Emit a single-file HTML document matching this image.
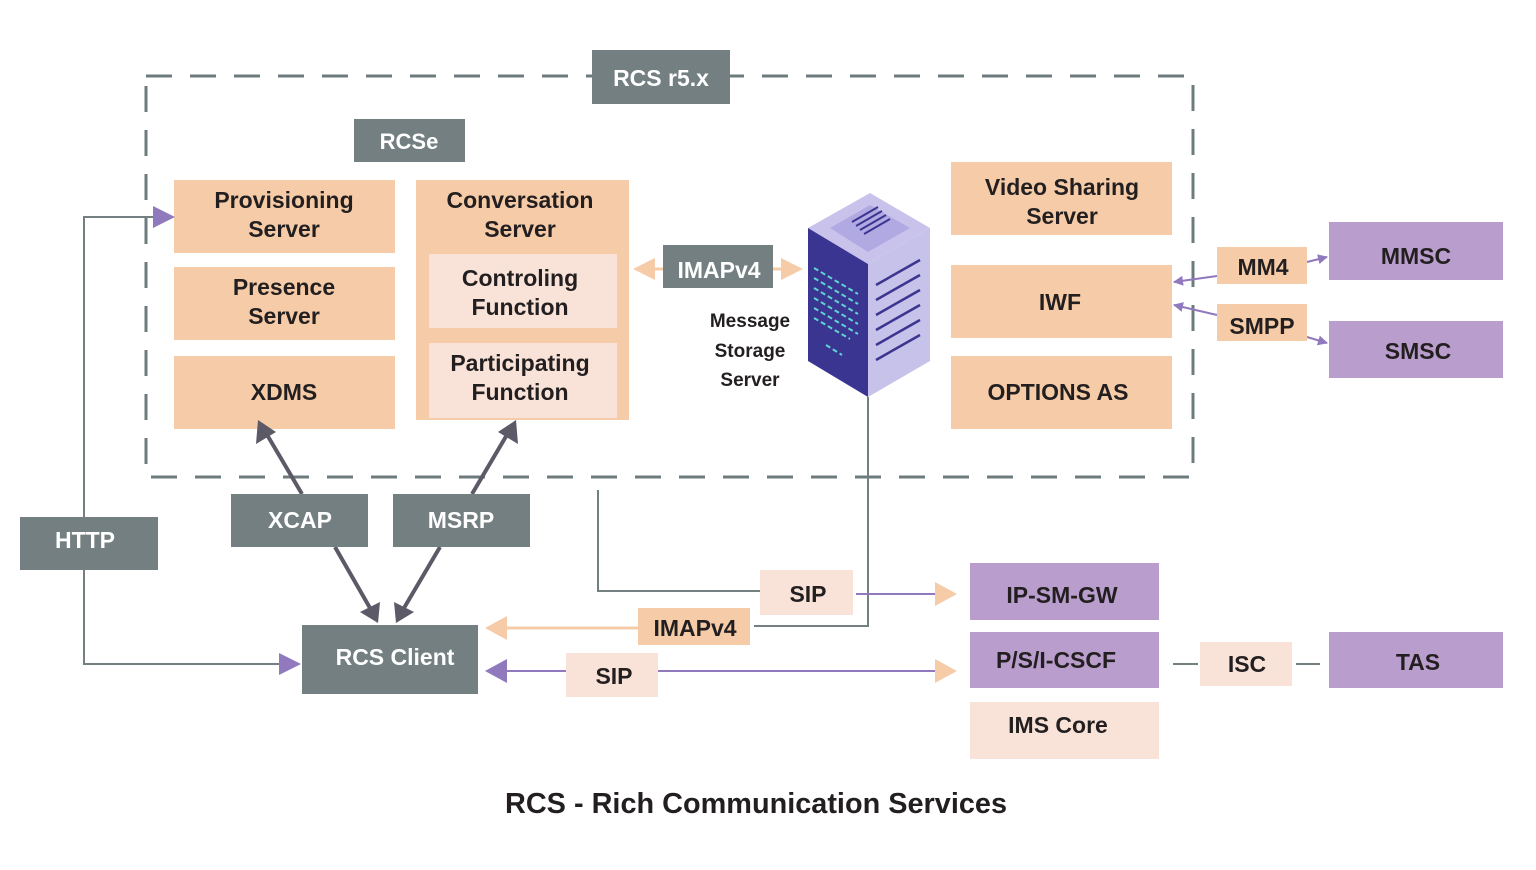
<!DOCTYPE html>
<html><head><meta charset="utf-8"><style>
html,body{margin:0;padding:0;background:#fff;}
svg text{font-family:"Liberation Sans",sans-serif;font-weight:bold;fill:#231f20;text-anchor:middle;}
</style></head><body>
<svg width="1536" height="865" viewBox="0 0 1536 865" xmlns="http://www.w3.org/2000/svg">
<defs>
<marker id="pa" markerWidth="10" markerHeight="10" refX="9" refY="5" orient="auto" markerUnits="userSpaceOnUse"><path d="M0,0 L10,5 L0,10 Z" fill="#9179bd"/></marker>
</defs>
<rect x="146" y="76" width="1047" height="401" fill="none" stroke="#6e7b7c" stroke-width="3" stroke-dasharray="26,18"/>
<rect x="592" y="50" width="138" height="54" fill="#737f80"/>
<text x="661" y="86" font-size="23" style="fill:#fff">RCS r5.x</text>
<rect x="354" y="119" width="111" height="43" fill="#737f80"/>
<text x="409" y="149" font-size="22" style="fill:#fff">RCSe</text>

<g font-size="23">
<rect x="174" y="180" width="221" height="73" fill="#f6cca8"/>
<text x="284" y="208">Provisioning</text><text x="284" y="237">Server</text>
<rect x="174" y="267" width="221" height="73" fill="#f6cca8"/>
<text x="284" y="295">Presence</text><text x="284" y="324">Server</text>
<rect x="174" y="356" width="221" height="73" fill="#f6cca8"/>
<text x="284" y="400">XDMS</text>
<rect x="416" y="180" width="213" height="240" fill="#f6cca8"/>
<text x="520" y="208">Conversation</text><text x="520" y="237">Server</text>
<rect x="429" y="254" width="188" height="74" fill="#f9e3d8"/>
<text x="520" y="286">Controling</text><text x="520" y="315">Function</text>
<rect x="429" y="343" width="188" height="75" fill="#f9e3d8"/>
<text x="520" y="371">Participating</text><text x="520" y="400">Function</text>

<rect x="951" y="162" width="221" height="73" fill="#f6cca8"/>
<text x="1062" y="195">Video Sharing</text><text x="1062" y="224">Server</text>
<rect x="951" y="265" width="221" height="73" fill="#f6cca8"/>
<text x="1060" y="310">IWF</text>
<rect x="951" y="356" width="221" height="73" fill="#f6cca8"/>
<text x="1058" y="400">OPTIONS AS</text>
</g>

<line x1="652" y1="269" x2="663" y2="269" stroke="#f6cca8" stroke-width="3"/>
<line x1="773" y1="269" x2="785" y2="269" stroke="#f6cca8" stroke-width="3"/>
<path d="M633,269 L655,258 L655,280 Z" fill="#f6cca8"/>
<path d="M803,269 L781,258 L781,280 Z" fill="#f6cca8"/>
<rect x="663" y="245" width="110" height="43" fill="#737f80"/>
<text x="719" y="278" font-size="23" style="fill:#fff">IMAPv4</text>

<g>
<path d="M808,228 L870,193 L930,228 L868,264 Z" fill="#c9c3ec"/>
<path d="M830,228 L870,205 L910,228 L868,252 Z" fill="#b1a9e2"/>
<g stroke="#3b3590" stroke-width="2"><line x1="852" y1="222" x2="878" y2="207"/><line x1="856" y1="226" x2="882" y2="211"/><line x1="860" y1="230" x2="886" y2="215"/><line x1="864" y1="234" x2="890" y2="219"/></g>
<path d="M808,228 L868,264 L868,397 L808,361 Z" fill="#3b3592"/>
<path d="M868,264 L930,228 L930,361 L868,397 Z" fill="#c7c2ea"/>
<g stroke="#3b3590" stroke-width="2.5"><line x1="876" y1="285" x2="920" y2="260"/><line x1="876" y1="300" x2="920" y2="275"/><line x1="876" y1="315" x2="920" y2="290"/><line x1="876" y1="330" x2="920" y2="305"/><line x1="876" y1="345" x2="920" y2="320"/><line x1="876" y1="360" x2="920" y2="335"/></g>
<g stroke="#5fd3d0" stroke-width="2" stroke-dasharray="5,3"><line x1="814" y1="268" x2="858" y2="294"/><line x1="814" y1="278" x2="858" y2="304"/><line x1="814" y1="288" x2="858" y2="314"/><line x1="814" y1="298" x2="858" y2="324"/><line x1="814" y1="308" x2="858" y2="334"/><line x1="814" y1="318" x2="850" y2="339"/><line x1="826" y1="345" x2="842" y2="355"/></g>
</g>
<g font-size="19">
<text x="750" y="327">Message</text>
<text x="750" y="357">Storage</text>
<text x="750" y="386">Server</text>
</g>

<line x1="1217" y1="276" x2="1174" y2="282" stroke="#9179bd" stroke-width="2" marker-end="url(#pa)"/>
<line x1="1217" y1="315" x2="1174" y2="305" stroke="#9179bd" stroke-width="2" marker-end="url(#pa)"/>
<line x1="1307" y1="262" x2="1327" y2="257" stroke="#9179bd" stroke-width="2" marker-end="url(#pa)"/>
<line x1="1307" y1="337" x2="1327" y2="343" stroke="#9179bd" stroke-width="2" marker-end="url(#pa)"/>
<rect x="1217" y="247" width="90" height="37" fill="#f6cca8"/>
<text x="1263" y="275" font-size="23">MM4</text>
<rect x="1217" y="304" width="90" height="37" fill="#f6cca8"/>
<text x="1262" y="334" font-size="23">SMPP</text>
<rect x="1329" y="222" width="174" height="58" fill="#b99ecd"/>
<text x="1416" y="264" font-size="23">MMSC</text>
<rect x="1329" y="321" width="174" height="57" fill="#b99ecd"/>
<text x="1418" y="359" font-size="23">SMSC</text>

<polyline points="84,517 84,217 160,217" fill="none" stroke="#737f80" stroke-width="2"/>
<path d="M175,217 L153,206 L153,228 Z" fill="#9179bd"/>
<polyline points="84,570 84,664 285,664" fill="none" stroke="#737f80" stroke-width="2"/>
<path d="M301,664 L279,653 L279,675 Z" fill="#9179bd"/>
<rect x="20" y="517" width="138" height="53" fill="#737f80"/>
<text x="85" y="548" font-size="23" style="fill:#fff">HTTP</text>

<g stroke="#5b5a66" stroke-width="4">
<line x1="302" y1="494" x2="266" y2="433"/>
<line x1="335" y1="547" x2="370" y2="608"/>
<line x1="472" y1="494" x2="508" y2="433"/>
<line x1="440" y1="547" x2="404" y2="608"/>
</g>
<g fill="#5b5a66">
<path d="M258,420 L256,444 L276,432 Z"/>
<path d="M378,623 L360,612 L380,602 Z"/>
<path d="M516,420 L498,432 L518,444 Z"/>
<path d="M396,623 L394,602 L414,612 Z"/>
</g>
<rect x="231" y="494" width="137" height="53" fill="#737f80"/>
<text x="300" y="528" font-size="23" style="fill:#fff">XCAP</text>
<rect x="393" y="494" width="137" height="53" fill="#737f80"/>
<text x="461" y="528" font-size="23" style="fill:#fff">MSRP</text>

<rect x="302" y="625" width="176" height="69" fill="#737f80"/>
<text x="395" y="665" font-size="23" style="fill:#fff">RCS Client</text>

<polyline points="598,490 598,591 760,591" fill="none" stroke="#737f80" stroke-width="2"/>
<polyline points="868,397 868,626 754,626" fill="none" stroke="#737f80" stroke-width="2"/>
<line x1="856" y1="594" x2="937" y2="594" stroke="#9179bd" stroke-width="2"/>
<path d="M957,594 L935,582 L935,606 Z" fill="#f6cca8"/>
<rect x="760" y="570" width="93" height="45" fill="#f9e3d8"/>
<text x="808" y="602" font-size="23">SIP</text>

<line x1="503" y1="628" x2="638" y2="628" stroke="#f6cca8" stroke-width="3"/>
<path d="M485,628 L507,616 L507,640 Z" fill="#f6cca8"/>
<rect x="638" y="608" width="112" height="37" fill="#f6cca8"/>
<text x="695" y="636" font-size="23">IMAPv4</text>

<line x1="503" y1="671" x2="937" y2="671" stroke="#9179bd" stroke-width="2"/>
<path d="M485,671 L507,659 L507,683 Z" fill="#9179bd"/>
<path d="M957,671 L935,659 L935,683 Z" fill="#f6cca8"/>
<rect x="566" y="653" width="92" height="44" fill="#f9e3d8"/>
<text x="614" y="684" font-size="23">SIP</text>

<rect x="970" y="563" width="189" height="57" fill="#b99ecd"/>
<text x="1062" y="603" font-size="23">IP-SM-GW</text>
<rect x="970" y="632" width="189" height="56" fill="#b99ecd"/>
<text x="1056" y="668" font-size="23">P/S/I-CSCF</text>
<rect x="970" y="702" width="189" height="57" fill="#f9e3d8"/>
<text x="1058" y="733" font-size="23">IMS Core</text>
<line x1="1173" y1="664" x2="1198" y2="664" stroke="#737f80" stroke-width="2"/>
<line x1="1296" y1="664" x2="1320" y2="664" stroke="#737f80" stroke-width="2"/>
<rect x="1200" y="642" width="92" height="44" fill="#f9e3d8"/>
<text x="1247" y="672" font-size="23">ISC</text>
<rect x="1329" y="632" width="174" height="56" fill="#b99ecd"/>
<text x="1418" y="670" font-size="23">TAS</text>

<text x="756" y="813" font-size="29" textLength="502" lengthAdjust="spacingAndGlyphs">RCS - Rich Communication Services</text>
</svg>
</body></html>
